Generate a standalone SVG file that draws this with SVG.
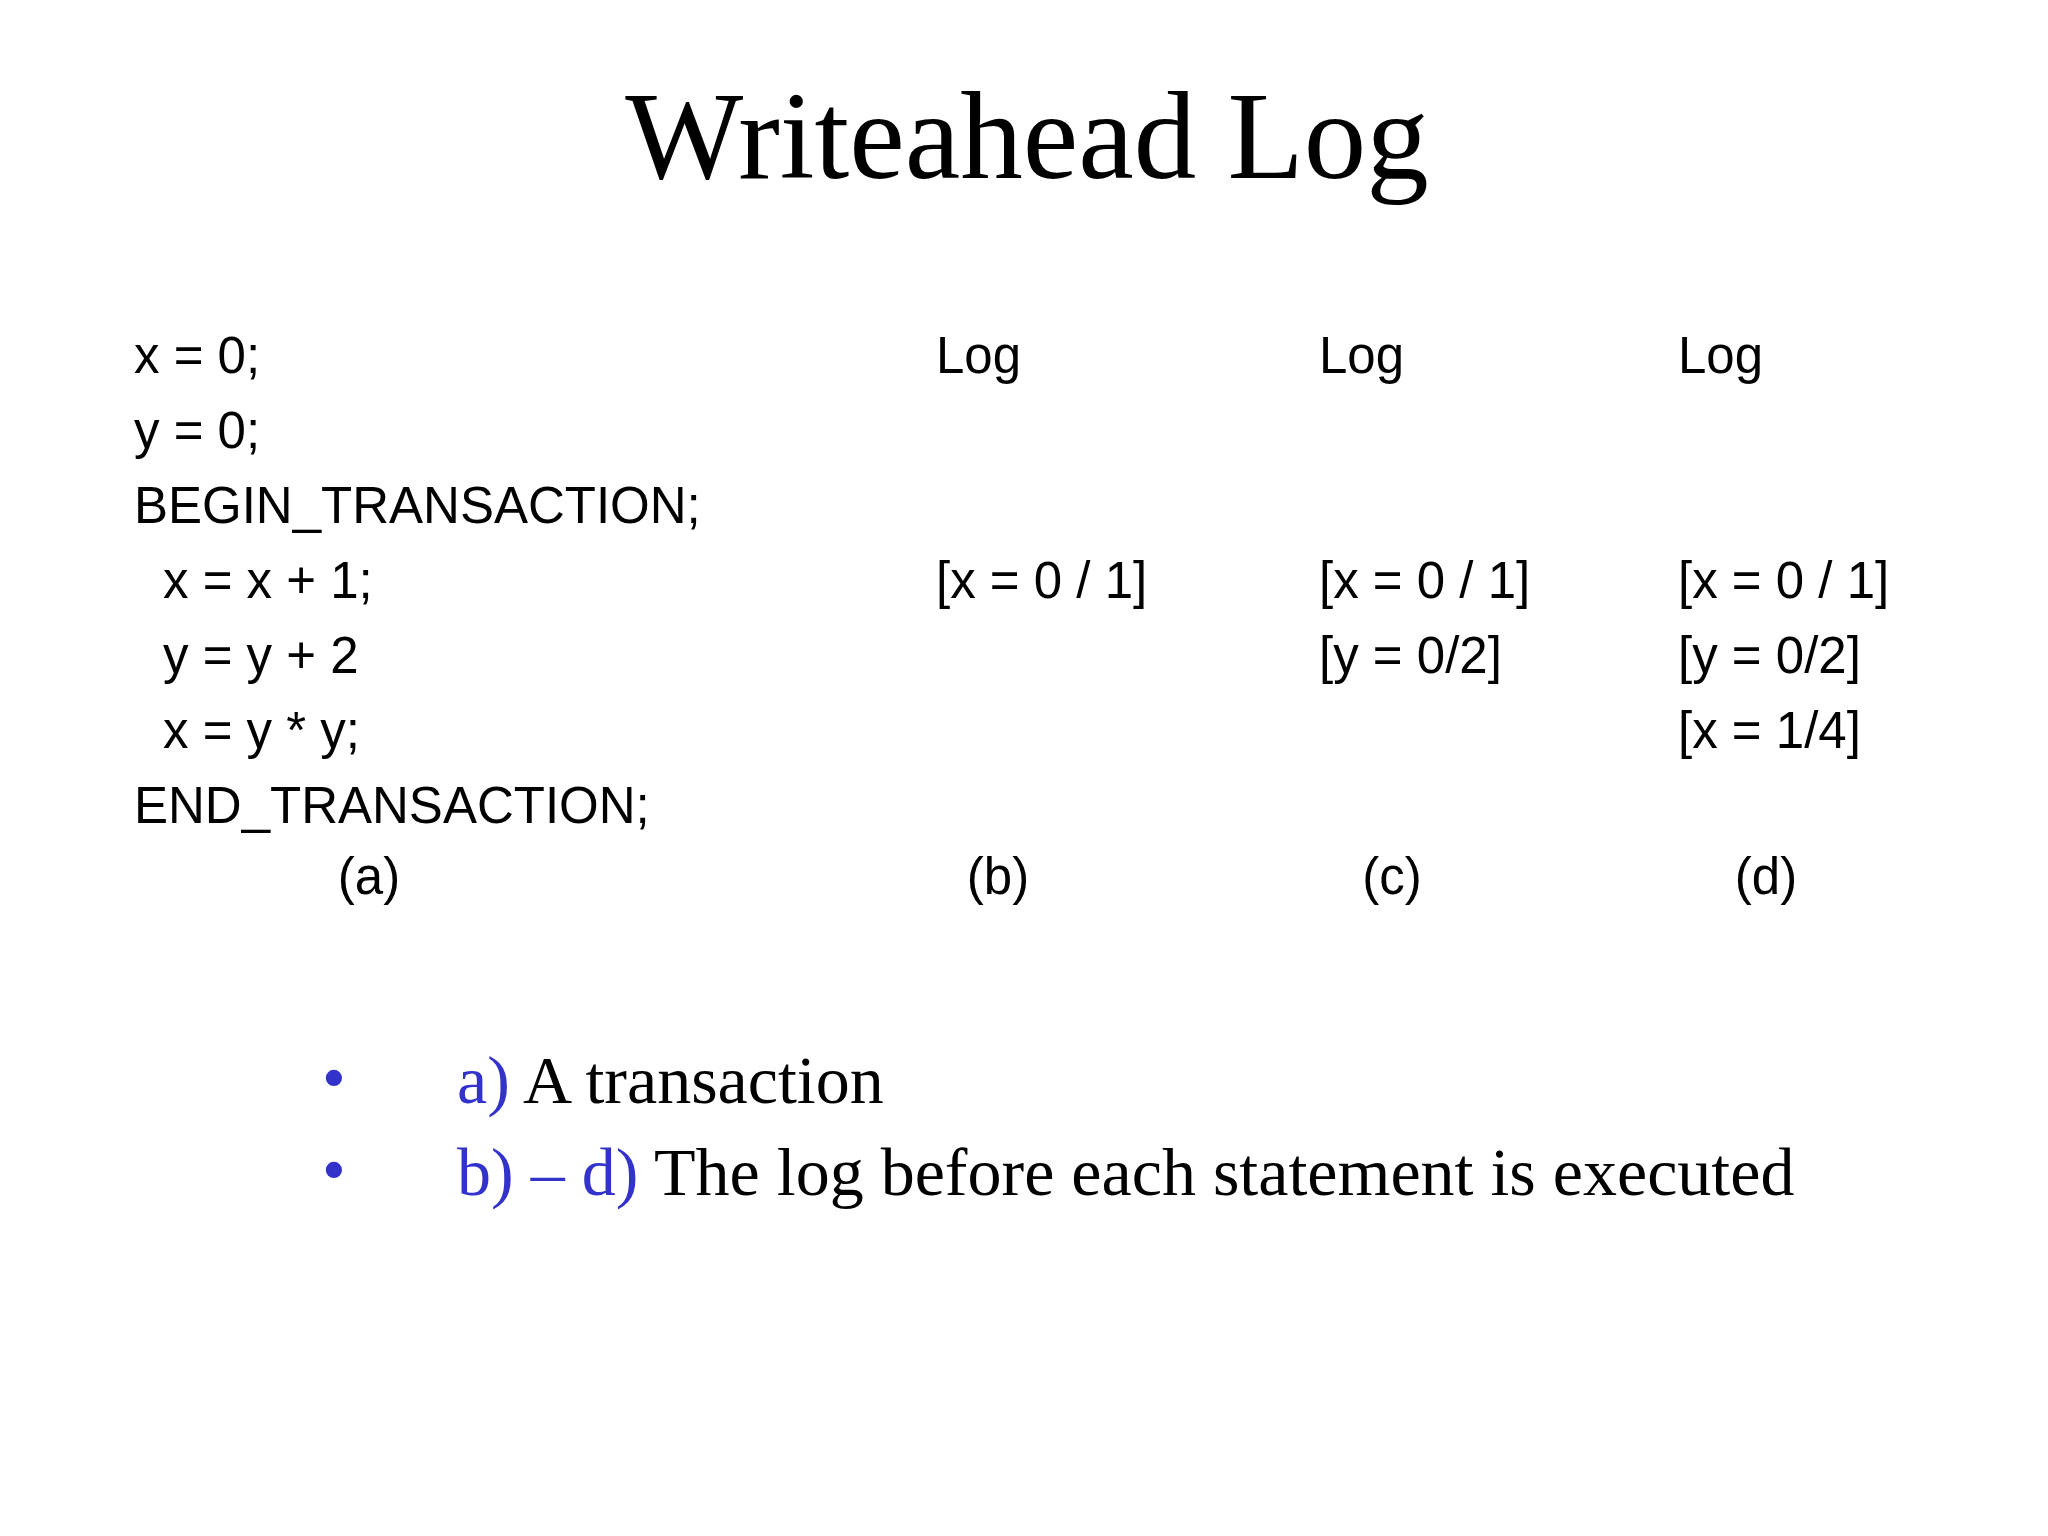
<svg xmlns="http://www.w3.org/2000/svg" width="2048" height="1536" viewBox="0 0 2048 1536">
<style>
.c{font-family:"Liberation Sans",Arial,sans-serif;font-size:51px;fill:#000}
.s{font-family:"Liberation Serif","Times New Roman",serif;font-size:68px;fill:#000}
.b{fill:#3333cc}
</style>
<rect width="2048" height="1536" fill="#fff"/>
<text x="1027" y="178" text-anchor="middle" font-family="Liberation Serif,serif" font-size="125">Writeahead Log</text>
<g id="code">
<text class="c" x="134" y="373">x = 0;</text>
<text class="c" x="134" y="448">y = 0;</text>
<text class="c" x="134" y="523">BEGIN_TRANSACTION;</text>
<text class="c" x="163" y="598">x = x + 1;</text>
<text class="c" x="163" y="673">y = y + 2</text>
<text class="c" x="163" y="748">x = y * y;</text>
<text class="c" x="134" y="823">END_TRANSACTION;</text>
<text class="c" x="369" y="894" text-anchor="middle">(a)</text>
</g>
<g id="logb">
<text class="c" x="936" y="373">Log</text>
<text class="c" x="936" y="598">[x = 0 / 1]</text>
<text class="c" x="998" y="894" text-anchor="middle">(b)</text>
</g>
<g id="logc">
<text class="c" x="1319" y="373">Log</text>
<text class="c" x="1319" y="598">[x = 0 / 1]</text>
<text class="c" x="1319" y="673">[y = 0/2]</text>
<text class="c" x="1392" y="894" text-anchor="middle">(c)</text>
</g>
<g id="logd">
<text class="c" x="1678" y="373">Log</text>
<text class="c" x="1678" y="598">[x = 0 / 1]</text>
<text class="c" x="1678" y="673">[y = 0/2]</text>
<text class="c" x="1678" y="748">[x = 1/4]</text>
<text class="c" x="1766" y="894" text-anchor="middle">(d)</text>
</g>
<g id="bullets">
<text class="s b" x="322" y="1100" font-size="48">•</text>
<text class="s" x="457" y="1103"><tspan class="b">a)</tspan> A transaction</text>
<text class="s b" x="322" y="1192" font-size="48">•</text>
<text class="s" x="457" y="1195"><tspan class="b">b) – d)</tspan> The log before each statement is executed</text>
</g>
</svg>
